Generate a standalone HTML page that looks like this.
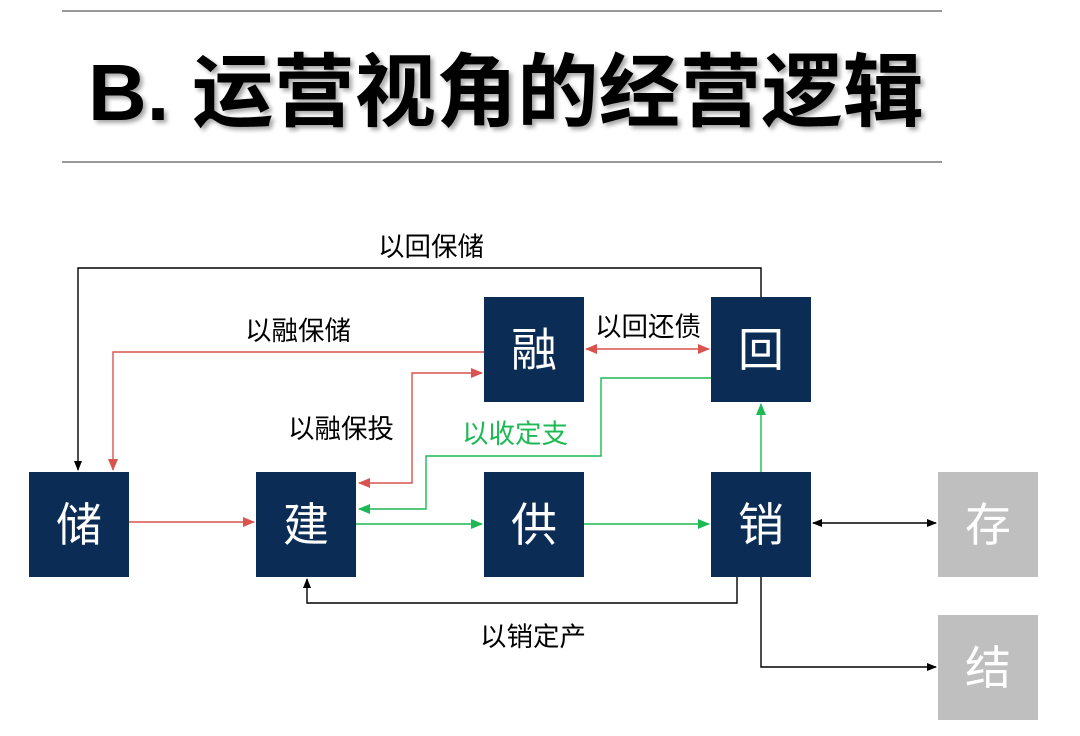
<!DOCTYPE html>
<html><head><meta charset="utf-8"><style>
body{margin:0;width:1080px;height:731px;background:#fff;overflow:hidden}
svg text{font-family:"Liberation Sans","Noto Sans CJK SC",sans-serif}
</style></head><body>
<svg width="1080" height="731" viewBox="0 0 1080 731" xmlns="http://www.w3.org/2000/svg">
<defs>
<marker id="k" markerWidth="10" markerHeight="10" refX="9" refY="5" orient="auto" markerUnits="userSpaceOnUse"><path d="M0,1 L10,5 L0,9 z" fill="#000"/></marker>
<marker id="ks" markerWidth="10" markerHeight="10" refX="1" refY="5" orient="auto" markerUnits="userSpaceOnUse"><path d="M10,1 L0,5 L10,9 z" fill="#000"/></marker>
<marker id="r" markerWidth="12" markerHeight="10" refX="11" refY="5" orient="auto" markerUnits="userSpaceOnUse"><path d="M0,0 L12,5 L0,10 z" fill="#d9534f"/></marker>
<marker id="rs" markerWidth="12" markerHeight="10" refX="1" refY="5" orient="auto" markerUnits="userSpaceOnUse"><path d="M12,0 L0,5 L12,10 z" fill="#d9534f"/></marker>
<marker id="g" markerWidth="12" markerHeight="10" refX="11" refY="5" orient="auto" markerUnits="userSpaceOnUse"><path d="M0,0 L12,5 L0,10 z" fill="#1db954"/></marker>
<filter id="sh"><feDropShadow dx="3" dy="3" stdDeviation="2" flood-color="#000" flood-opacity="0.35"/></filter>
</defs>
<line x1="62" y1="11" x2="942" y2="11" stroke="#333" stroke-width="1"/>
<line x1="62" y1="162" x2="942" y2="162" stroke="#333" stroke-width="1"/>
<text x="506" y="120" text-anchor="middle" font-size="80" font-weight="bold" fill="#000" filter="url(#sh)" textLength="836" lengthAdjust="spacingAndGlyphs">B. 运营视角的经营逻辑</text>

<g fill="none" stroke-width="1.4">
<polyline points="761,297 761,268 78,268 78,470" stroke="#000" marker-end="url(#k)"/>
<polyline points="484,352 113,352 113,470" stroke="#d9534f" marker-end="url(#r)"/>
<line x1="586" y1="349" x2="709" y2="349" stroke="#d9534f" marker-start="url(#rs)" marker-end="url(#r)"/>
<polyline points="359,483 412,483 412,373 482,373" stroke="#d9534f" marker-start="url(#rs)" marker-end="url(#r)"/>
<polyline points="711,378 601,378 601,456 426,456 426,509 359,509" stroke="#1db954" marker-end="url(#g)"/>
<line x1="129" y1="522" x2="254" y2="522" stroke="#d9534f" marker-end="url(#r)"/>
<line x1="356" y1="524" x2="482" y2="524" stroke="#1db954" marker-end="url(#g)"/>
<line x1="584" y1="524" x2="709" y2="524" stroke="#1db954" marker-end="url(#g)"/>
<line x1="761" y1="472" x2="761" y2="404" stroke="#1db954" marker-end="url(#g)"/>
<line x1="813" y1="523" x2="936" y2="523" stroke="#000" marker-start="url(#ks)" marker-end="url(#k)"/>
<polyline points="737,577 737,603 307,603 307,579" stroke="#000" marker-end="url(#k)"/>
<polyline points="761,577 761,667 936,667" stroke="#000" marker-end="url(#k)"/>
</g>

<g fill="#0b2d55">
<rect x="484" y="297" width="100" height="105"/>
<rect x="711" y="297" width="100" height="105"/>
<rect x="29" y="472" width="100" height="105"/>
<rect x="256" y="472" width="100" height="105"/>
<rect x="484" y="472" width="100" height="105"/>
<rect x="711" y="472" width="100" height="105"/>
</g>
<g fill="#bfbfbf">
<rect x="938" y="472" width="100" height="105"/>
<rect x="938" y="615" width="100" height="105"/>
</g>
<g font-size="46" fill="#fff" text-anchor="middle">
<text x="534" y="366">融</text>
<text x="761" y="366">回</text>
<text x="79" y="541">储</text>
<text x="306" y="541">建</text>
<text x="534" y="541">供</text>
<text x="761" y="541">销</text>
<text x="988" y="541">存</text>
<text x="988" y="684">结</text>
</g>
<g font-size="26.5" fill="#000">
<text x="378" y="256">以回保储</text>
<text x="245" y="340">以融保储</text>
<text x="595" y="336">以回还债</text>
<text x="288" y="438">以融保投</text>
<text x="462" y="443" fill="#1db954">以收定支</text>
<text x="480" y="646">以销定产</text>
</g>
</svg>
</body></html>
